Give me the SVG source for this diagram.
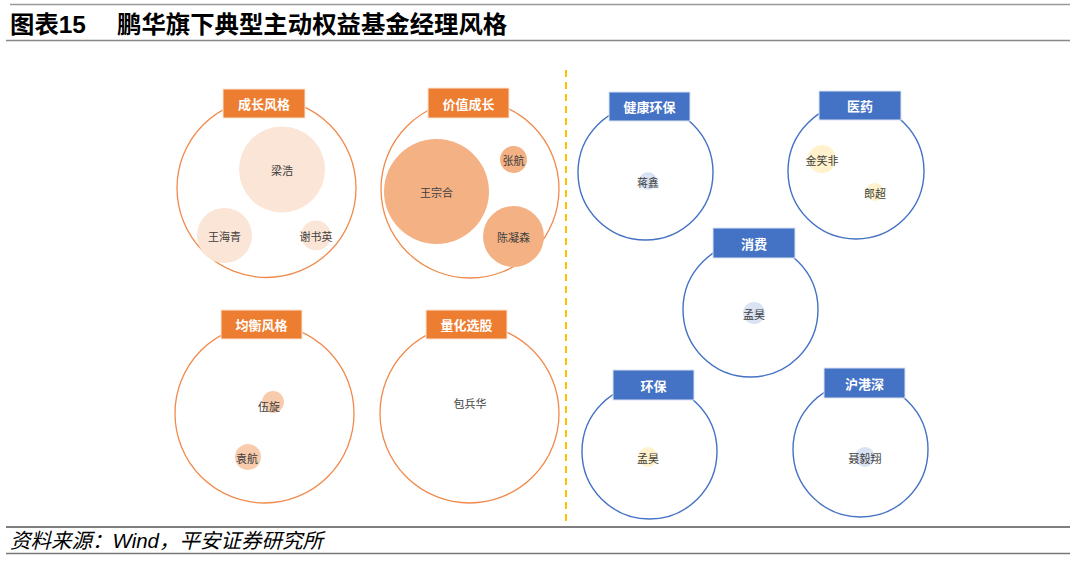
<svg xmlns="http://www.w3.org/2000/svg" width="1080" height="562" viewBox="0 0 1080 562">
<style>
.title{font-family:"Liberation Sans","Noto Sans CJK SC",sans-serif;font-weight:bold;font-size:24.4px;fill:#000}
.foot{font-family:"Liberation Sans","Noto Sans CJK SC",sans-serif;font-style:italic;font-size:20.5px;fill:#000}
.oc{fill:none;stroke:#F08A4B;stroke-width:1.3}
.bc{fill:none;stroke:#4472C4;stroke-width:1.4}
.ob{fill:#ED7D31;stroke:#FBE5D6;stroke-width:1}
.bb{fill:#4472C4;stroke:#DAE3F3;stroke-width:1}
.lab{font-family:"Noto Sans CJK SC",sans-serif;font-weight:bold;font-size:13px;fill:#fff;text-anchor:middle;dominant-baseline:central}
.nm{font-family:"Noto Sans CJK SC",sans-serif;font-size:11px;fill:#404040;text-anchor:middle;dominant-baseline:central}
.p1{fill:#FBE5D6}.p2{fill:#F4B183}.p3{fill:#F8CBAD}.y1{fill:#FFF2CC}.b1{fill:#DAE3F3}
</style>
<rect width="1080" height="562" fill="#fff"/>
<g id="header">
<line x1="10" y1="4.5" x2="1070" y2="4.5" stroke="#999" stroke-width="1.5"/>
<text class="title" x="10" y="33">图表15</text>
<text class="title" x="117" y="33">鹏华旗下典型主动权益基金经理风格</text>
<line x1="6" y1="40.5" x2="1070" y2="40.5" stroke="#888" stroke-width="1.5"/>
</g>
<g id="connectors">
<line x1="566" y1="70" x2="566" y2="521" stroke="#FFC000" stroke-width="2" stroke-dasharray="7,5"/>
</g>
<g id="growth">
<circle class="oc" cx="266.5" cy="188" r="89.5"/>
<circle class="p1" cx="282" cy="169.5" r="43"/>
<circle class="p1" cx="224.5" cy="235.5" r="27.5"/>
<circle class="p1" cx="316" cy="235.5" r="15"/>
<text class="nm" x="282" y="170">梁浩</text>
<text class="nm" x="224.5" y="236">王海青</text>
<text class="nm" x="316" y="236">谢书英</text>
<rect class="ob" x="223" y="89" width="82" height="29"/>
<text class="lab" x="264" y="103.5">成长风格</text>
</g>
<g id="value-growth">
<circle class="oc" cx="470" cy="189" r="89"/>
<circle class="p2" cx="436.5" cy="191.5" r="52.5"/>
<circle class="p2" cx="513.5" cy="159.5" r="13.5"/>
<circle class="p2" cx="513.5" cy="236.5" r="30.5"/>
<text class="nm" x="436.5" y="192">王宗合</text>
<text class="nm" x="513.5" y="159.5">张航</text>
<text class="nm" x="513.5" y="237">陈凝森</text>
<rect class="ob" x="428" y="88" width="81" height="30"/>
<text class="lab" x="468.5" y="103">价值成长</text>
</g>
<g id="balanced">
<circle class="oc" cx="264.5" cy="413.5" r="89.5"/>
<circle class="p3" cx="273" cy="402" r="11"/>
<circle class="p3" cx="248" cy="457" r="13"/>
<text class="nm" x="269" y="405.5">伍旋</text>
<text class="nm" x="247" y="457.5">袁航</text>
<rect class="ob" x="221" y="310" width="81" height="29"/>
<text class="lab" x="261.5" y="324.5">均衡风格</text>
</g>
<g id="quant">
<circle class="oc" cx="469.5" cy="413.5" r="89.5"/>
<text class="nm" x="470" y="402.5">包兵华</text>
<rect class="ob" x="426" y="310" width="81" height="29"/>
<text class="lab" x="466.5" y="324.5">量化选股</text>
</g>
<g id="health-env">
<circle class="bc" cx="645.5" cy="172.5" r="67.5"/>
<circle class="b1" cx="648" cy="181" r="9"/>
<text class="nm" x="648" y="181.5">蒋鑫</text>
<rect class="bb" x="609" y="92" width="81" height="29"/>
<text class="lab" x="649.5" y="106.5">健康环保</text>
</g>
<g id="pharma">
<circle class="bc" cx="856" cy="171" r="68"/>
<circle class="y1" cx="822" cy="159" r="14"/>
<circle class="y1" cx="875" cy="192" r="9"/>
<text class="nm" x="822" y="159.5">金笑非</text>
<text class="nm" x="875" y="192.5">郎超</text>
<rect class="bb" x="819" y="91" width="82" height="29"/>
<text class="lab" x="860" y="105.5">医药</text>
</g>
<g id="consumer">
<circle class="bc" cx="750.5" cy="309.5" r="67.5"/>
<circle class="b1" cx="754" cy="313" r="11"/>
<text class="nm" x="754" y="313.5">孟昊</text>
<rect class="bb" x="713" y="228" width="82" height="30"/>
<text class="lab" x="754" y="243">消费</text>
</g>
<g id="env">
<circle class="bc" cx="649.5" cy="451.5" r="67.5"/>
<circle class="y1" cx="648" cy="457" r="10"/>
<text class="nm" x="648" y="457.5">孟昊</text>
<rect class="bb" x="613" y="370" width="81" height="30"/>
<text class="lab" x="653.5" y="385">环保</text>
</g>
<g id="hk-sz">
<circle class="bc" cx="860.5" cy="449.5" r="67.5"/>
<circle class="b1" cx="865" cy="457" r="10"/>
<text class="nm" x="865" y="457.5">聂毅翔</text>
<rect class="bb" x="824" y="368" width="81" height="30"/>
<text class="lab" x="864.5" y="383">沪港深</text>
</g>
<g id="footer">
<line x1="6" y1="527" x2="1070" y2="527" stroke="#555" stroke-width="1.5"/>
<text class="foot" x="10" y="548">资料来源：Wind，平安证券研究所</text>
<line x1="6" y1="553.5" x2="1070" y2="553.5" stroke="#777" stroke-width="1.5"/>
</g>
</svg>
